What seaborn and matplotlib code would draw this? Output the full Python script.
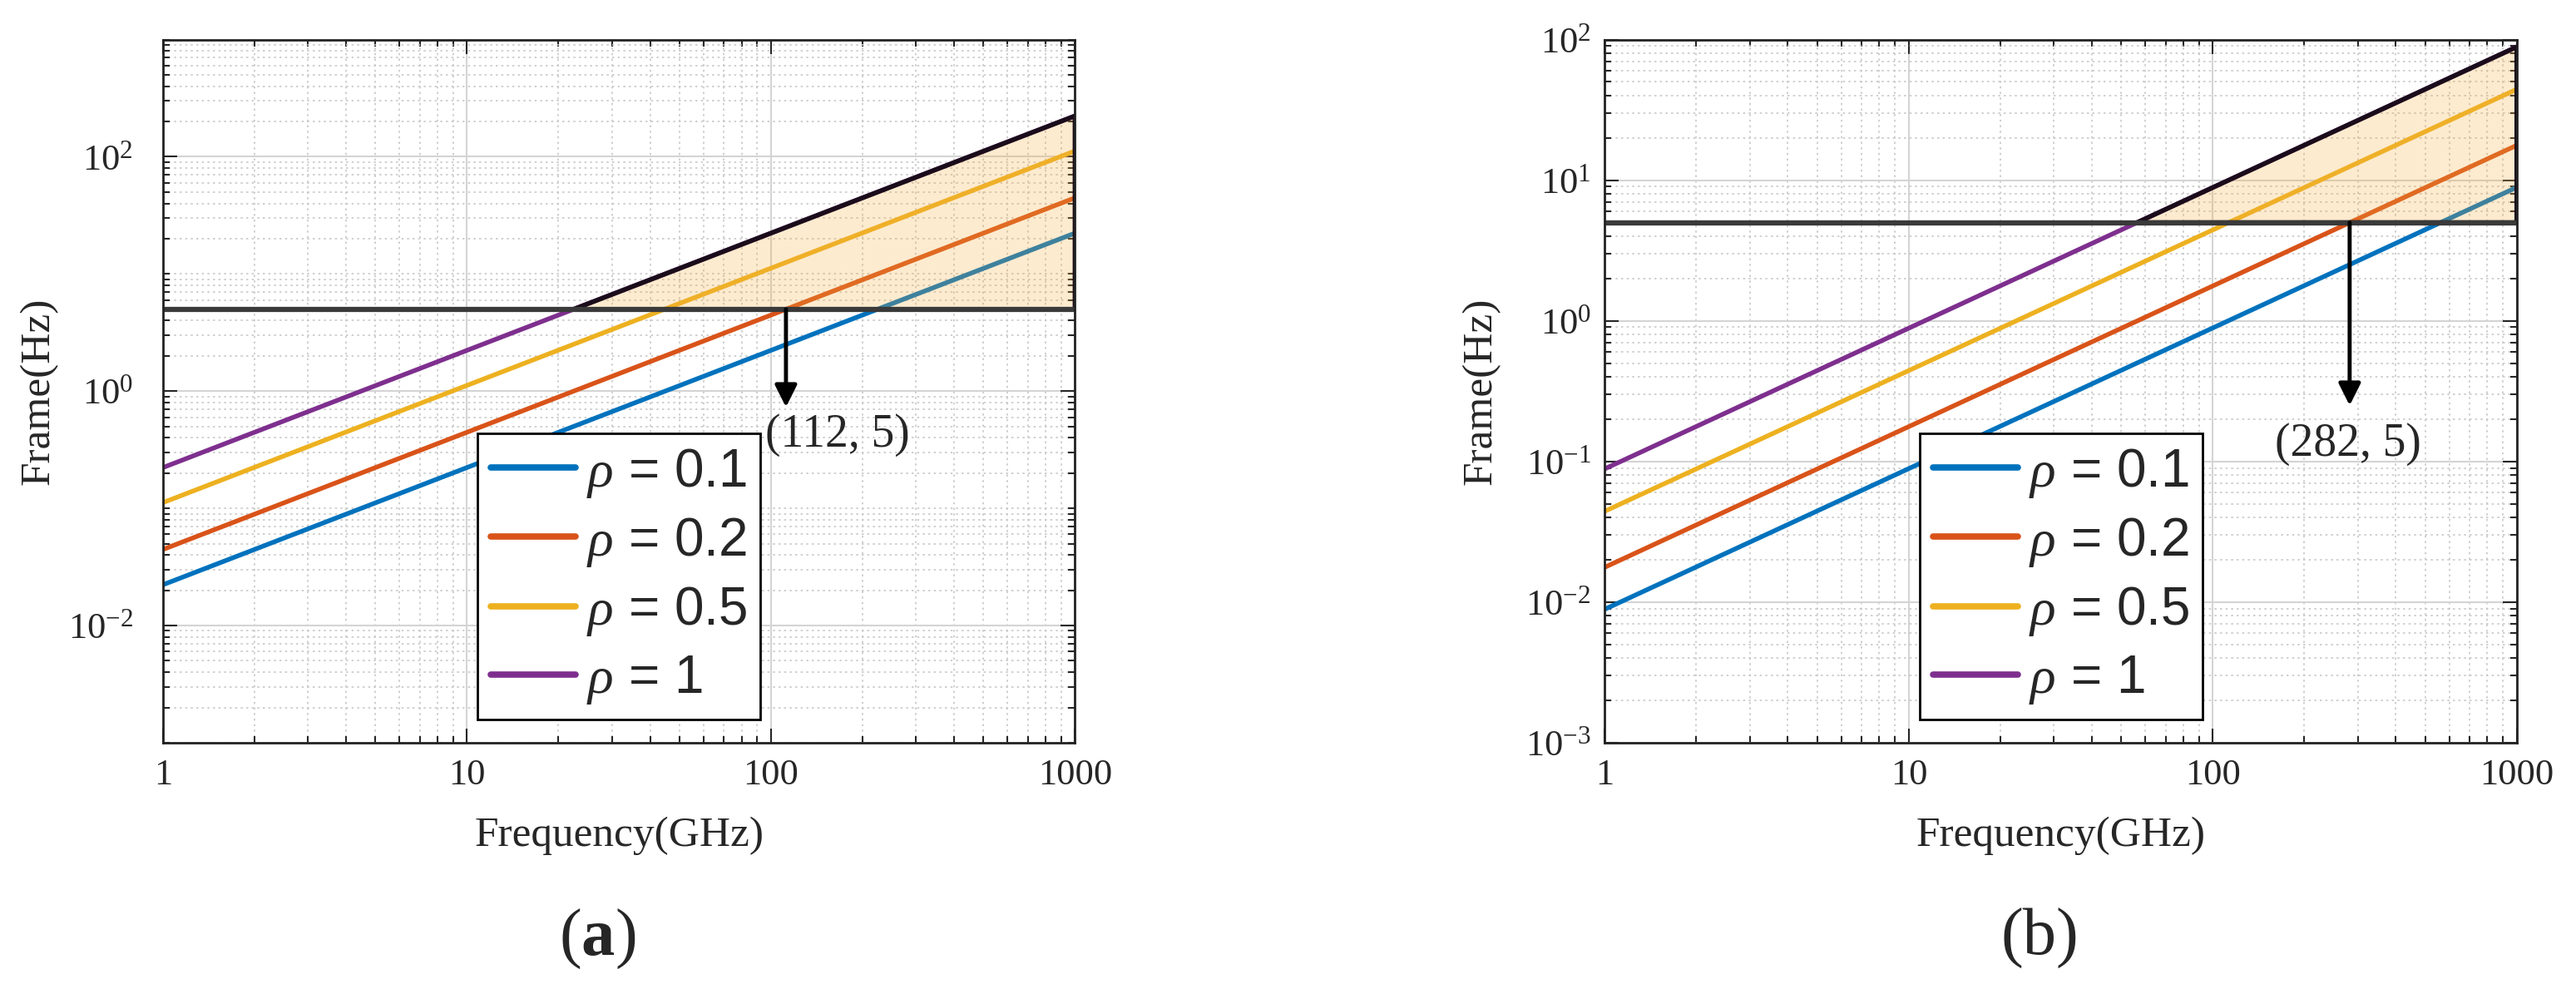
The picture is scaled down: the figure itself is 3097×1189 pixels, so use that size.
import numpy as np
import pandas as pd
import matplotlib
matplotlib.use("Agg")
import matplotlib.pyplot as plt
from matplotlib.ticker import LogLocator, FixedLocator, FixedFormatter, NullFormatter
import seaborn as sns

# values
freq = [1, 10, 100, 1000]
rho_labels = [r"$\rho$ = 0.1", r"$\rho$ = 0.2", r"$\rho$ = 0.5", r"$\rho$ = 1"]

frame_a_01 = [0.0223, 0.223, 2.23, 22.3]
frame_a_02 = [0.0446, 0.446, 4.46, 44.6]
frame_a_05 = [0.112, 1.12, 11.2, 112]
frame_a_1 = [0.223, 2.23, 22.3, 223]

frame_b_01 = [0.0089, 0.089, 0.89, 8.9]
frame_b_02 = [0.0177, 0.177, 1.77, 17.7]
frame_b_05 = [0.0443, 0.443, 4.43, 44.3]
frame_b_1 = [0.0887, 0.887, 8.87, 88.7]

threshold = 5
cross_a = (112, 5)
cross_b = (282, 5)

colors = ["#0072BD", "#D95319", "#EDB120", "#7E2F8E"]

sns.set_style("ticks")
plt.rcParams["font.family"] = ["Liberation Serif", "DejaVu Serif"]
plt.rcParams["mathtext.fontset"] = "custom"
plt.rcParams["mathtext.rm"] = "Liberation Serif"
plt.rcParams["mathtext.it"] = "Liberation Serif:italic"
plt.rcParams["mathtext.bf"] = "Liberation Serif:bold"


def make_df(series):
    rows = []
    for lab, vals in zip(rho_labels, series):
        for f, v in zip(freq, vals):
            rows.append({"freq": f, "frame": v, "rho": lab})
    return pd.DataFrame(rows)


def draw_panel(ax, series, ylim, ymajor, cross, arrow_end, text_pos, ypad):
    df = make_df(series)
    sns.lineplot(data=df, x="freq", y="frame", hue="rho", palette=colors,
                 linewidth=4, ax=ax, legend=False)
    ax.set_xscale("log")
    ax.set_yscale("log")
    ax.set_xlim(1, 1000)
    ax.set_ylim(*ylim)

    ax.axhline(threshold, color="#3a3a3a", lw=4.5, zorder=4)
    top = np.array(series[-1])
    ax.fill_between(freq, threshold, top, where=top >= threshold, interpolate=True,
                    facecolor="#F8B040", alpha=0.25, edgecolor="none", zorder=3)
    ax.fill_between(freq, threshold, top, where=top >= threshold, interpolate=True,
                    facecolor="none", edgecolor="#1a0c1a", lw=4, zorder=3.5)

    ax.annotate("", xy=(cross[0], arrow_end), xytext=cross,
                arrowprops=dict(arrowstyle="-|>", color="black", lw=3.5,
                                mutation_scale=40, shrinkA=0, shrinkB=0), zorder=6)
    ax.text(text_pos[0], text_pos[1], f"({cross[0]}, {cross[1]})", fontsize=40,
            ha="center", va="top")

    ax.xaxis.set_major_locator(FixedLocator(freq))
    ax.xaxis.set_major_formatter(FixedFormatter([str(f) for f in freq]))
    ax.xaxis.set_minor_locator(LogLocator(base=10, subs=np.arange(2, 10)))
    ax.xaxis.set_minor_formatter(NullFormatter())
    ax.yaxis.set_major_locator(FixedLocator(ymajor))
    ax.yaxis.set_minor_locator(LogLocator(base=10, subs=np.arange(1, 10), numticks=30))
    ax.yaxis.set_minor_formatter(NullFormatter())

    ax.grid(True, which="major", color="#d4d4d4", lw=1.5, ls="-")
    ax.grid(True, which="minor", color="#c8c8c8", lw=1.2, ls=(0, (1.5, 2.5)))
    ax.set_axisbelow(True)
    ax.tick_params(which="both", direction="in", top=True, right=True, width=1.5)
    ax.tick_params(which="major", length=12, labelsize=32)
    ax.tick_params(which="minor", length=6)
    ax.tick_params(axis="x", pad=14)
    ax.tick_params(axis="y", pad=ypad)
    for s in ax.spines.values():
        s.set_linewidth(2)
        s.set_color("#222222")
        s.set_zorder(5)

    ax.set_xlabel("Frequency(GHz)", fontsize=37)
    ax.set_ylabel("Frame(Hz)", fontsize=37)
    ax.xaxis.set_label_coords(0.5, -0.105)
    ax.yaxis.set_label_coords(-0.115, 0.5)
    ax.xaxis.label.set_va("top")

    handles = [plt.Line2D([], [], color=c, lw=5.5) for c in colors]
    leg = ax.legend(handles, rho_labels, loc="lower center", bbox_to_anchor=(0.5, 0.033),
                    prop={"family": "Liberation Sans", "size": 46}, frameon=True,
                    fancybox=False, framealpha=1, edgecolor="black", handlelength=1.6,
                    handletextpad=0.2, labelspacing=0.3, borderpad=0.25,
                    borderaxespad=0)
    leg.get_frame().set_linewidth(2)
    leg.set_zorder(10)


fig = plt.figure(figsize=(30.97, 11.89), dpi=100)
ax1 = fig.add_axes([0.0633, 0.249, 0.354, 0.711])
ax2 = fig.add_axes([0.623, 0.249, 0.354, 0.711])

draw_panel(ax1, [frame_a_01, frame_a_02, frame_a_05, frame_a_1], (1e-3, 1e3),
           [1e-2, 1e0, 1e2], cross_a, 0.73, (165, 0.65), 26)
draw_panel(ax2, [frame_b_01, frame_b_02, frame_b_05, frame_b_1], (1e-3, 1e2),
           [1e-3, 1e-2, 1e-1, 1e0, 1e1, 1e2], cross_b, 0.25, (278, 0.19), 12)

fig.text(0.232, 0.051, r"($\mathbf{a}$)", fontsize=58, ha="center", va="center")
fig.text(0.792, 0.051, "(b)", fontsize=58, ha="center", va="center")

fig.savefig("out.png", dpi=100)
